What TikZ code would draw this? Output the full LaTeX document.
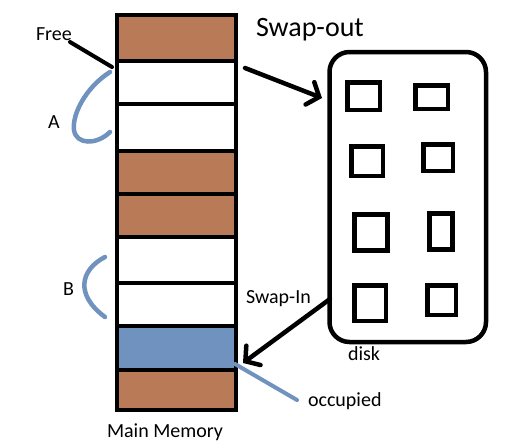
\documentclass[tikz,border=0pt]{standalone}
\usepackage{fontspec}
\setmainfont{Carlito}
\usetikzlibrary{arrows.meta}
\definecolor{brownfill}{RGB}{185,122,87}
\definecolor{bluefill}{RGB}{112,146,190}
\begin{document}
\begin{tikzpicture}[x=1pt,y=-1pt,
  memblock/.style={draw=black, line width=4.5pt, minimum width=119pt, inner sep=0pt, outer sep=0pt, anchor=north},
  slot/.style={draw=black, line width=4.5pt, inner sep=0pt, outer sep=0pt},
  lbl/.style={inner sep=0pt, outer sep=0pt, anchor=base west, font=\fontsize{20}{24}\selectfont},
  blackline/.style={draw=black, line width=4pt, line cap=round},
  bluecurve/.style={draw=bluefill, line width=4.5pt, line cap=round},
  bigarrow/.style={draw=black, line width=4.5pt, line cap=round,
    -{Straight Barb[length=10pt, width=24pt, line cap=round]}}
]
\useasboundingbox[fill=white] (0,0) rectangle (519,445);

% main memory column
\node[memblock, fill=brownfill, minimum height=46pt] (m1) at (176.5,15) {};
\node[memblock, fill=white, minimum height=43pt] (m2) at (176.5,61) {};
\node[memblock, fill=white, minimum height=47pt] (m3) at (176.5,104) {};
\node[memblock, fill=brownfill, minimum height=43pt] (m4) at (176.5,151) {};
\node[memblock, fill=brownfill, minimum height=43pt] (m5) at (176.5,194) {};
\node[memblock, fill=white, minimum height=46pt] (m6) at (176.5,237) {};
\node[memblock, fill=white, minimum height=43pt] (m7) at (176.5,283) {};
\node[memblock, fill=bluefill, minimum height=44pt] (m8) at (176.5,326) {};
\node[memblock, fill=brownfill, minimum height=40pt] (m9) at (176.5,370) {};

% disk
\node[draw=black, line width=4.5pt, rounded corners=20pt, minimum width=156.5pt, minimum height=290pt, inner sep=0pt, outer sep=0pt] (disk) at (407.75,197) {};
\node[slot, minimum width=32.5pt, minimum height=27.5pt] (s1) at (363.5,96) {};
\node[slot, minimum width=32.5pt, minimum height=23.5pt] (s2) at (431.5,97) {};
\node[slot, minimum width=31.5pt, minimum height=29.5pt] (s3) at (367,161) {};
\node[slot, minimum width=29.5pt, minimum height=26.5pt] (s4) at (438,157.5) {};
\node[slot, minimum width=33pt, minimum height=36pt] (s5) at (371,232.5) {};
\node[slot, minimum width=23pt, minimum height=36pt] (s6) at (441,231.5) {};
\node[slot, minimum width=31.5pt, minimum height=35.5pt] (s7) at (370,303) {};
\node[slot, minimum width=28.5pt, minimum height=29.5pt] (s8) at (441.5,300) {};

% labels
\node[lbl] (free) at (36,40) {Free};
\node[lbl] (la) at (48,128) {A};
\node[lbl] (lb) at (63,295) {B};
\node[lbl] (mainmem) at (107,437) {Main Memory};
\node[lbl, font=\fontsize{28}{32}\selectfont] (swapout) at (256,36.5) {Swap-out};
\node[lbl] (swapin) at (246,303) {Swap-In};
\node[lbl] (disklbl) at (348,360) {disk};
\node[lbl] (occ) at (308,406) {occupied};

% connectors
\coordinate (freeend) at (70,42);
\coordinate (freetip) at (112,67);
\draw[blackline] (freeend) -- (freetip);

\coordinate (outstart) at (245,68);
\coordinate (outtip) at (322,98);
\draw[bigarrow] (outstart) -- (outtip);

\coordinate (instart) at (330,299);
\coordinate (intip) at (243,363);
\draw[bigarrow] (instart) -- (intip);

\coordinate (occstart) at (235,364);
\coordinate (occend) at (297,400);
\draw[bluecurve, line width=4pt] (occstart) -- (occend);

% braces
\draw[bluecurve] (110,72) .. controls (85,88) and (72,115) .. (74,130) .. controls (76,145) and (97,145) .. (110,132);
\draw[bluecurve] (105,257) .. controls (80,270) and (75,295) .. (105,317);
\end{tikzpicture}
\end{document}
